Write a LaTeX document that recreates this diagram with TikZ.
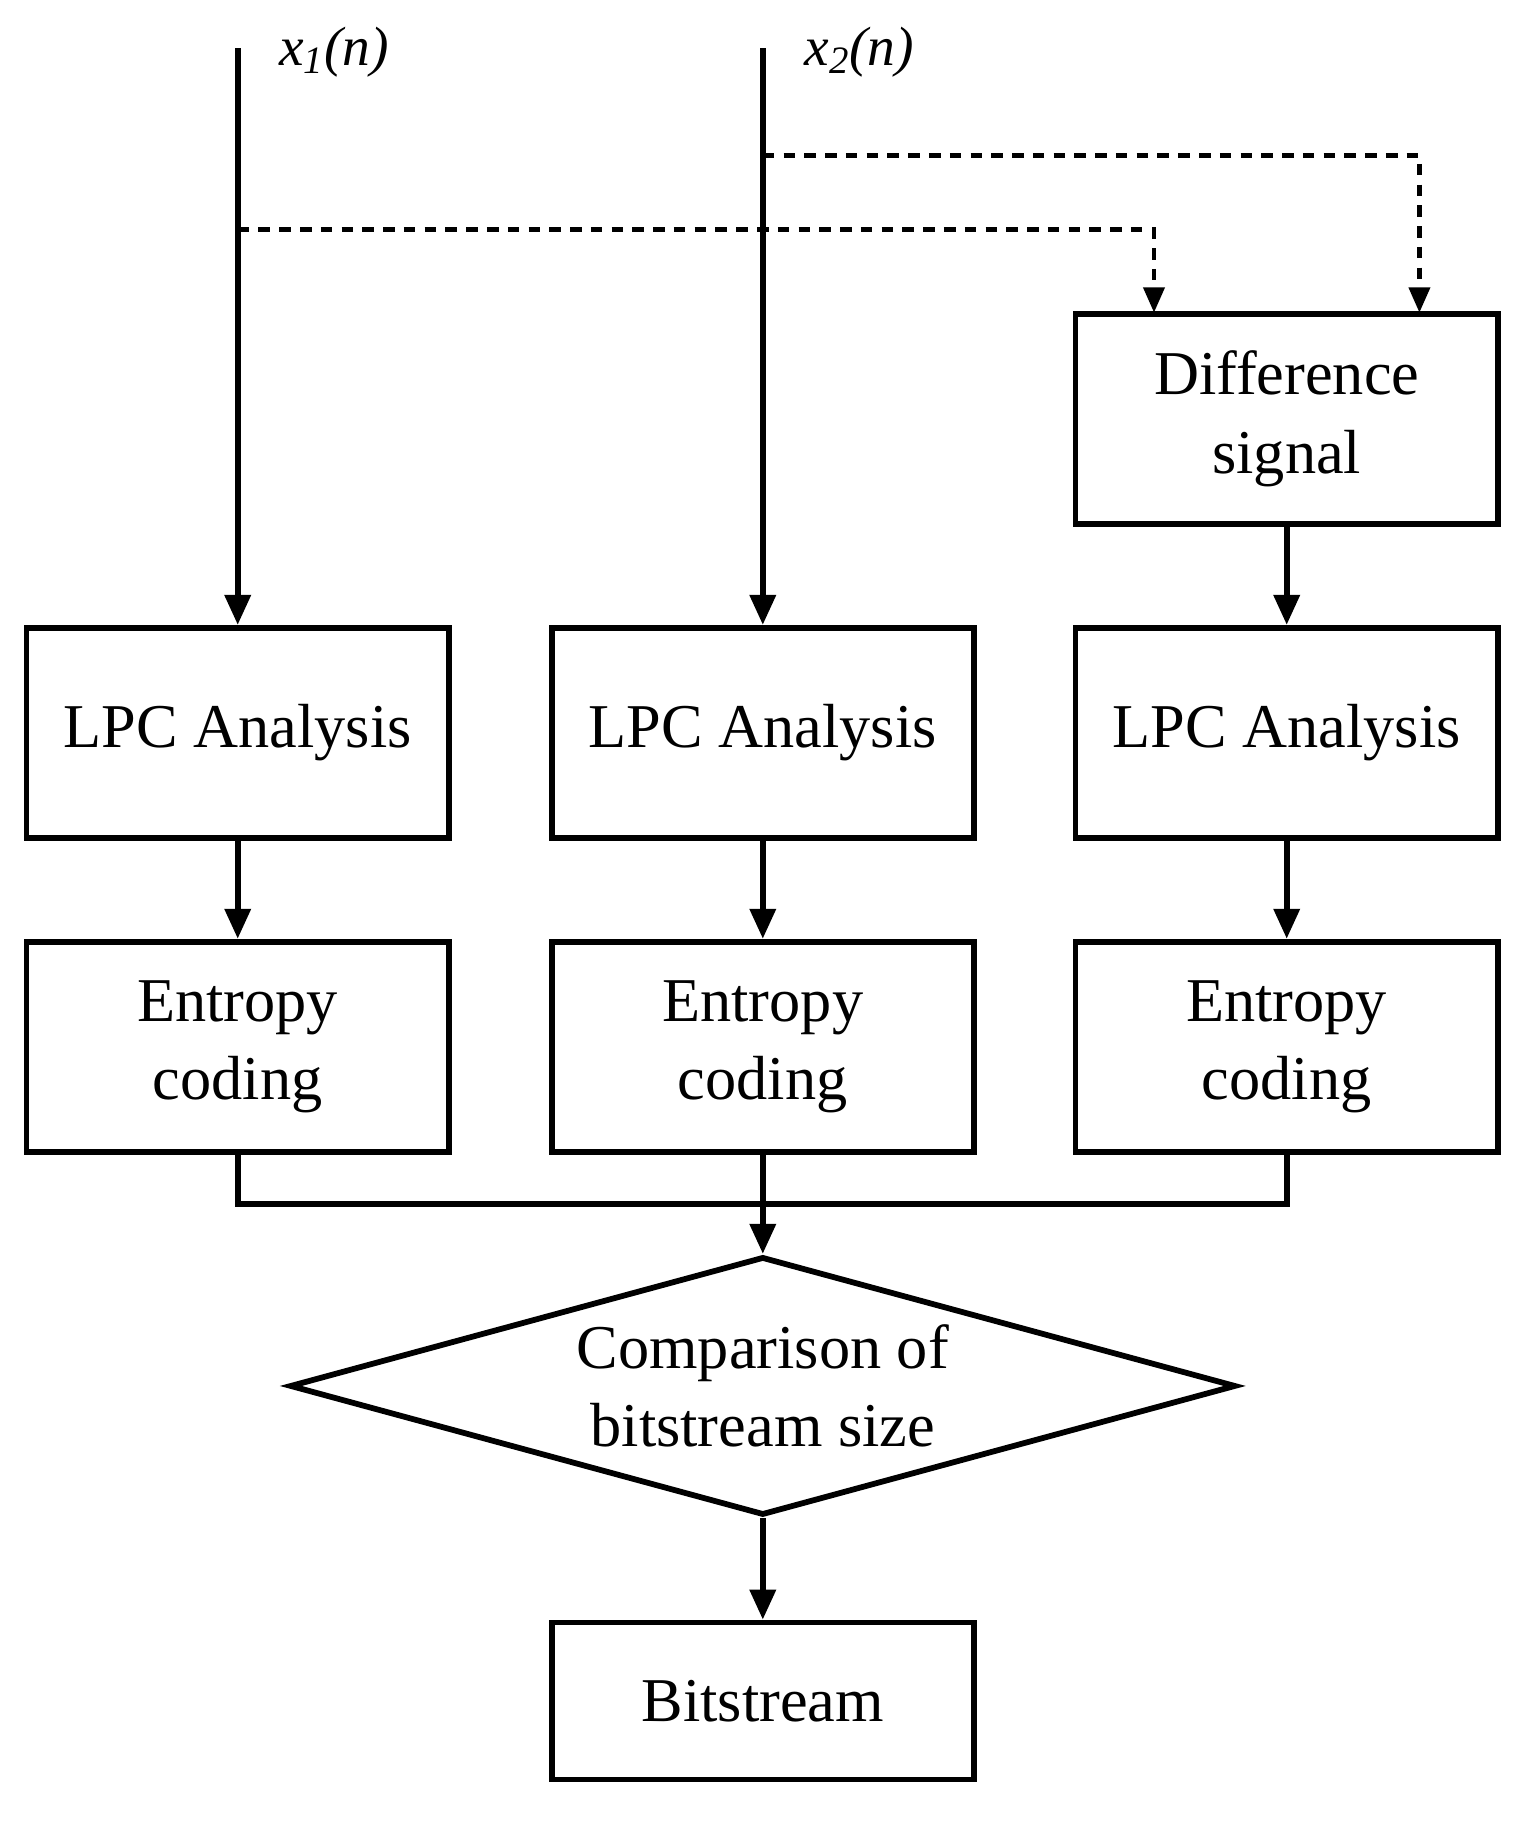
\documentclass[tikz,border=0pt]{standalone}
\usepackage{fontspec}
\setmainfont{Liberation Serif}
\usetikzlibrary{arrows.meta,shapes.geometric}
\begin{document}
\begin{tikzpicture}[x=0.5pt,y=-0.5pt,
  box/.style={draw,line width=2.5pt,minimum width=183pt,minimum height=91pt,inner sep=0pt,align=center,font=\fontsize{27}{34}\selectfont},
  ln/.style={line width=2.5pt},
  arr/.style={ln,-{Triangle[length=13pt,width=11pt]}},
  darr/.style={line width=2pt,dash pattern=on 5pt off 4pt,-{Triangle[length=11pt,width=9pt]}}]
\useasboundingbox (0,0) rectangle (1330,1578);
\node[box] (diff) at (1115,363) {Difference\\signal};
\node[box] (l1) at (206,635) {LPC Analysis};
\node[box] (l2) at (661,635) {LPC Analysis};
\node[box] (l3) at (1115,635) {LPC Analysis};
\node[box] (e1) at (206,907) {Entropy\\coding};
\node[box] (e2) at (661,907) {Entropy\\coding};
\node[box] (e3) at (1115,907) {Entropy\\coding};
\node[box,minimum height=68pt] (bs) at (661,1474) {Bitstream};
\node[draw,line width=2.5pt,diamond,aspect=3.66,minimum width=410pt,minimum height=112pt,inner sep=0pt,align=center,font=\fontsize{27}{34}\selectfont] (cmp) at (661,1201) {};
\node[align=center,font=\fontsize{27}{34}\selectfont] at (661,1201) {Comparison of\\bitstream size};
\coordinate (s1) at (206,42);
\coordinate (s2) at (661,42);
\node[font=\fontsize{24}{28}\selectfont\itshape,anchor=west] at (235,45) {x\textsubscript{1}(n)};
\node[font=\fontsize{24}{28}\selectfont\itshape,anchor=west] at (690,45) {x\textsubscript{2}(n)};
\draw[arr] (s1) -- (l1);
\draw[arr] (s2) -- (l2);
\draw[darr] (206,199) -- (1000,199) -- (1000,271);
\draw[darr] (661,135) -- (1230,135) -- (1230,271);
\draw[arr] (diff) -- (l3);
\draw[arr] (l1) -- (e1);
\draw[arr] (l2) -- (e2);
\draw[arr] (l3) -- (e3);
\draw[ln] (e1.south) -- (206,1043) -- (1115,1043) -- (e3.south);
\draw[arr] (e2.south) -- (cmp.north);
\draw[arr] (cmp.south) -- (bs.north);
\end{tikzpicture}
\end{document}
